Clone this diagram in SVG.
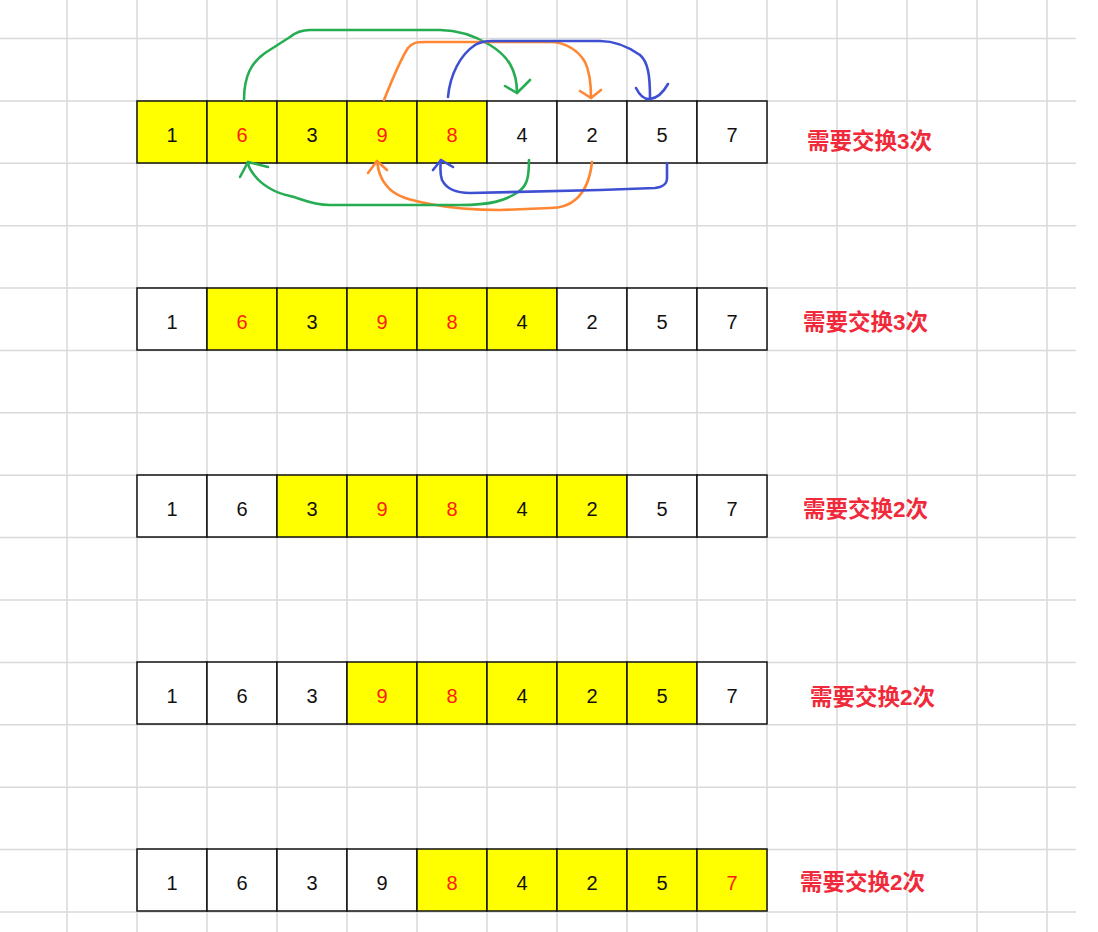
<svg xmlns="http://www.w3.org/2000/svg" width="1098" height="932" viewBox="0 0 1098 932">
<style>
.grid line{stroke:#d9d9d9;stroke-width:1.5}
.cell rect{stroke:#111;stroke-width:1.5}
.y{fill:#ffff00}
.w{fill:#ffffff}
.d{font-family:"Liberation Sans",Arial,sans-serif;font-size:20px;text-anchor:middle;fill:#111}
.r{fill:#ff1a0a}
.lbl{font-family:"Liberation Sans","Noto Sans CJK SC",sans-serif;font-size:22.5px;font-weight:bold;fill:#f02a3a}
.arr path{fill:none;stroke-width:2.6;stroke-linecap:round;stroke-linejoin:round}
.g{stroke:#26ad52}
.o{stroke:#ff8633}
.b{stroke:#3f4fd2}
</style>
<rect width="1098" height="932" fill="#ffffff"/>
<g class="grid">
<line x1="67" y1="0" x2="67" y2="932"/><line x1="137" y1="0" x2="137" y2="932"/><line x1="207" y1="0" x2="207" y2="932"/><line x1="277" y1="0" x2="277" y2="932"/><line x1="347" y1="0" x2="347" y2="932"/><line x1="417" y1="0" x2="417" y2="932"/><line x1="487" y1="0" x2="487" y2="932"/><line x1="557" y1="0" x2="557" y2="932"/><line x1="627" y1="0" x2="627" y2="932"/><line x1="697" y1="0" x2="697" y2="932"/><line x1="767" y1="0" x2="767" y2="932"/><line x1="837" y1="0" x2="837" y2="932"/><line x1="907" y1="0" x2="907" y2="932"/><line x1="977" y1="0" x2="977" y2="932"/><line x1="1047" y1="0" x2="1047" y2="932"/>
<line x1="0" y1="38.5" x2="1076" y2="38.5"/><line x1="0" y1="101" x2="1076" y2="101"/><line x1="0" y1="163.3" x2="1076" y2="163.3"/><line x1="0" y1="225.7" x2="1076" y2="225.7"/><line x1="0" y1="288" x2="1076" y2="288"/><line x1="0" y1="350.4" x2="1076" y2="350.4"/><line x1="0" y1="412.8" x2="1076" y2="412.8"/><line x1="0" y1="475.2" x2="1076" y2="475.2"/><line x1="0" y1="537.6" x2="1076" y2="537.6"/><line x1="0" y1="600" x2="1076" y2="600"/><line x1="0" y1="662.4" x2="1076" y2="662.4"/><line x1="0" y1="724.8" x2="1076" y2="724.8"/><line x1="0" y1="787.2" x2="1076" y2="787.2"/><line x1="0" y1="849.6" x2="1076" y2="849.6"/><line x1="0" y1="912" x2="1076" y2="912"/>
</g>

<g id="row1">
<g id="r1c1" class="cell"><rect class="y" x="137" y="101" width="70" height="62"/><text class="d" x="172" y="142">1</text></g>
<g id="r1c2" class="cell"><rect class="y" x="207" y="101" width="70" height="62"/><text class="d r" x="242" y="142">6</text></g>
<g id="r1c3" class="cell"><rect class="y" x="277" y="101" width="70" height="62"/><text class="d" x="312" y="142">3</text></g>
<g id="r1c4" class="cell"><rect class="y" x="347" y="101" width="70" height="62"/><text class="d r" x="382" y="142">9</text></g>
<g id="r1c5" class="cell"><rect class="y" x="417" y="101" width="70" height="62"/><text class="d r" x="452" y="142">8</text></g>
<g id="r1c6" class="cell"><rect class="w" x="487" y="101" width="70" height="62"/><text class="d" x="522" y="142">4</text></g>
<g id="r1c7" class="cell"><rect class="w" x="557" y="101" width="70" height="62"/><text class="d" x="592" y="142">2</text></g>
<g id="r1c8" class="cell"><rect class="w" x="627" y="101" width="70" height="62"/><text class="d" x="662" y="142">5</text></g>
<g id="r1c9" class="cell"><rect class="w" x="697" y="101" width="70" height="62"/><text class="d" x="732" y="142">7</text></g>
<text id="label1" class="lbl" x="807" y="149">需要交换3次</text>
</g>

<g id="row2">
<g id="r2c1" class="cell"><rect class="w" x="137" y="288" width="70" height="62"/><text class="d" x="172" y="329">1</text></g>
<g id="r2c2" class="cell"><rect class="y" x="207" y="288" width="70" height="62"/><text class="d r" x="242" y="329">6</text></g>
<g id="r2c3" class="cell"><rect class="y" x="277" y="288" width="70" height="62"/><text class="d" x="312" y="329">3</text></g>
<g id="r2c4" class="cell"><rect class="y" x="347" y="288" width="70" height="62"/><text class="d r" x="382" y="329">9</text></g>
<g id="r2c5" class="cell"><rect class="y" x="417" y="288" width="70" height="62"/><text class="d r" x="452" y="329">8</text></g>
<g id="r2c6" class="cell"><rect class="y" x="487" y="288" width="70" height="62"/><text class="d" x="522" y="329">4</text></g>
<g id="r2c7" class="cell"><rect class="w" x="557" y="288" width="70" height="62"/><text class="d" x="592" y="329">2</text></g>
<g id="r2c8" class="cell"><rect class="w" x="627" y="288" width="70" height="62"/><text class="d" x="662" y="329">5</text></g>
<g id="r2c9" class="cell"><rect class="w" x="697" y="288" width="70" height="62"/><text class="d" x="732" y="329">7</text></g>
<text id="label2" class="lbl" x="803" y="330">需要交换3次</text>
</g>

<g id="row3">
<g id="r3c1" class="cell"><rect class="w" x="137" y="475" width="70" height="62"/><text class="d" x="172" y="516">1</text></g>
<g id="r3c2" class="cell"><rect class="w" x="207" y="475" width="70" height="62"/><text class="d" x="242" y="516">6</text></g>
<g id="r3c3" class="cell"><rect class="y" x="277" y="475" width="70" height="62"/><text class="d" x="312" y="516">3</text></g>
<g id="r3c4" class="cell"><rect class="y" x="347" y="475" width="70" height="62"/><text class="d r" x="382" y="516">9</text></g>
<g id="r3c5" class="cell"><rect class="y" x="417" y="475" width="70" height="62"/><text class="d r" x="452" y="516">8</text></g>
<g id="r3c6" class="cell"><rect class="y" x="487" y="475" width="70" height="62"/><text class="d" x="522" y="516">4</text></g>
<g id="r3c7" class="cell"><rect class="y" x="557" y="475" width="70" height="62"/><text class="d" x="592" y="516">2</text></g>
<g id="r3c8" class="cell"><rect class="w" x="627" y="475" width="70" height="62"/><text class="d" x="662" y="516">5</text></g>
<g id="r3c9" class="cell"><rect class="w" x="697" y="475" width="70" height="62"/><text class="d" x="732" y="516">7</text></g>
<text id="label3" class="lbl" x="803" y="517">需要交换2次</text>
</g>

<g id="row4">
<g id="r4c1" class="cell"><rect class="w" x="137" y="662" width="70" height="62"/><text class="d" x="172" y="703">1</text></g>
<g id="r4c2" class="cell"><rect class="w" x="207" y="662" width="70" height="62"/><text class="d" x="242" y="703">6</text></g>
<g id="r4c3" class="cell"><rect class="w" x="277" y="662" width="70" height="62"/><text class="d" x="312" y="703">3</text></g>
<g id="r4c4" class="cell"><rect class="y" x="347" y="662" width="70" height="62"/><text class="d r" x="382" y="703">9</text></g>
<g id="r4c5" class="cell"><rect class="y" x="417" y="662" width="70" height="62"/><text class="d r" x="452" y="703">8</text></g>
<g id="r4c6" class="cell"><rect class="y" x="487" y="662" width="70" height="62"/><text class="d" x="522" y="703">4</text></g>
<g id="r4c7" class="cell"><rect class="y" x="557" y="662" width="70" height="62"/><text class="d" x="592" y="703">2</text></g>
<g id="r4c8" class="cell"><rect class="y" x="627" y="662" width="70" height="62"/><text class="d" x="662" y="703">5</text></g>
<g id="r4c9" class="cell"><rect class="w" x="697" y="662" width="70" height="62"/><text class="d" x="732" y="703">7</text></g>
<text id="label4" class="lbl" x="810" y="705">需要交换2次</text>
</g>

<g id="row5">
<g id="r5c1" class="cell"><rect class="w" x="137" y="849" width="70" height="62"/><text class="d" x="172" y="890">1</text></g>
<g id="r5c2" class="cell"><rect class="w" x="207" y="849" width="70" height="62"/><text class="d" x="242" y="890">6</text></g>
<g id="r5c3" class="cell"><rect class="w" x="277" y="849" width="70" height="62"/><text class="d" x="312" y="890">3</text></g>
<g id="r5c4" class="cell"><rect class="w" x="347" y="849" width="70" height="62"/><text class="d" x="382" y="890">9</text></g>
<g id="r5c5" class="cell"><rect class="y" x="417" y="849" width="70" height="62"/><text class="d r" x="452" y="890">8</text></g>
<g id="r5c6" class="cell"><rect class="y" x="487" y="849" width="70" height="62"/><text class="d" x="522" y="890">4</text></g>
<g id="r5c7" class="cell"><rect class="y" x="557" y="849" width="70" height="62"/><text class="d" x="592" y="890">2</text></g>
<g id="r5c8" class="cell"><rect class="y" x="627" y="849" width="70" height="62"/><text class="d" x="662" y="890">5</text></g>
<g id="r5c9" class="cell"><rect class="y" x="697" y="849" width="70" height="62"/><text class="d r" x="732" y="890">7</text></g>
<text id="label5" class="lbl" x="800" y="890">需要交换2次</text>
</g>

<g id="connectors" class="arr">
<path class="g" d="M244,100 C244,75 252,62 265,53 L290,37 C296,32 302,30 310,30 L440,30 C460,30 475,36 490,45 C508,56 517,70 517,93"/>
<path class="g" d="M505,86 L517,93 L530,80"/>
<path class="o" d="M384,100 C392,80 400,60 408,48 C412,43 416,42 425,42 L550,42 C565,42 578,50 585,62 C590,72 591,85 591,98"/>
<path class="o" d="M580,91 L591,98 L601,90"/>
<path class="b" d="M448,97 C450,75 460,55 475,45 C480,42 485,41 492,41 L600,41 C615,41 630,48 640,55 C648,62 650,75 650,98"/>
<path class="b" d="M636,88 Q642,100 650,99 Q660,98 668,84"/>
<path class="o" d="M592,162 C590,180 585,192 575,200 C568,206 560,208 550,208 L500,210 C480,210 450,208 430,204 C410,200 395,197 386,185 C380,178 378,170 377,161"/>
<path class="o" d="M368,173 L377,161 L387,170"/>
<path class="g" d="M529,160 C529,178 527,186 518,192 C505,201 490,205 460,205 L330,205 C310,205 300,198 290,196 C275,193 262,185 255,176 C250,170 248,166 248,162"/>
<path class="g" d="M240,177 L248,162 L268,167"/>
<path class="b" d="M667,163 L667,178 C667,185 662,187 655,188 L600,190 L470,193 C455,193 446,188 442,180 C440,174 440,168 441,160"/>
<path class="b" d="M433,170 L441,160 L453,167"/>
</g>
</svg>
